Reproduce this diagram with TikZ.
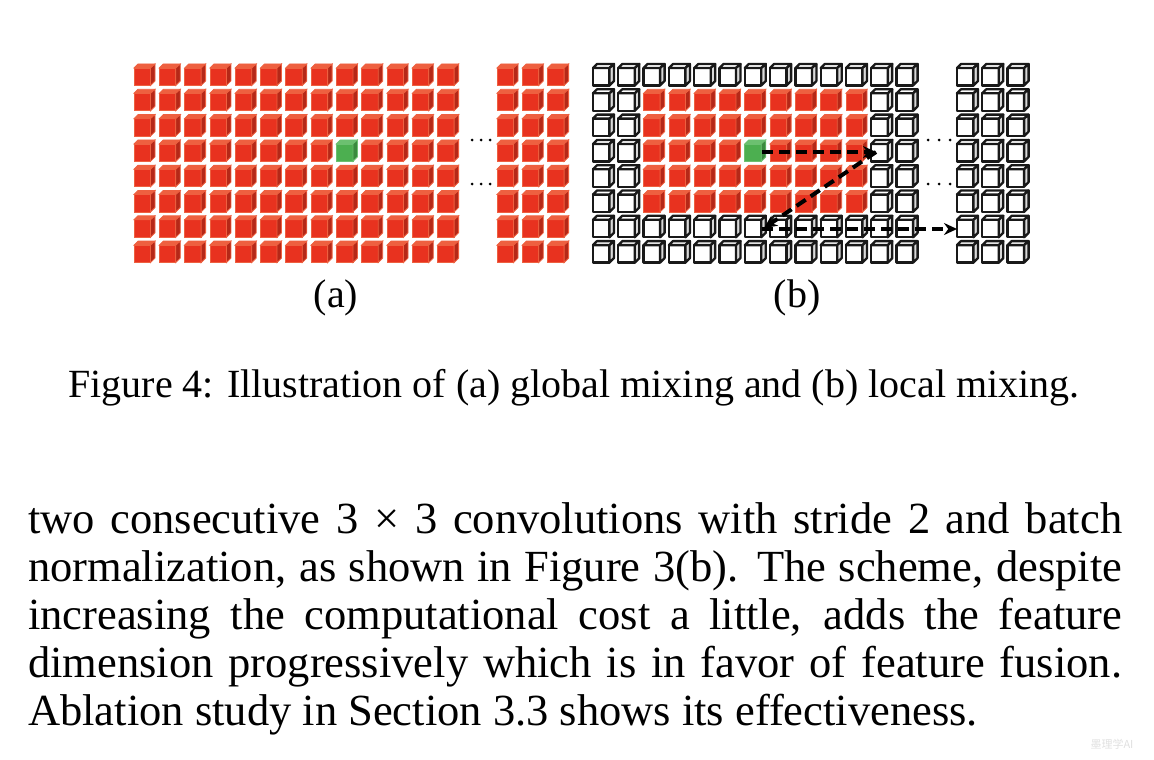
\documentclass[tikz,border=0pt]{standalone}
\usepackage{fontspec}
\setmainfont{Liberation Serif}
\newfontfamily\cjk{Noto Sans CJK SC}
\usetikzlibrary{arrows.meta}
\definecolor{rf}{HTML}{E8321F}
\definecolor{rt}{HTML}{EE6040}
\definecolor{rs}{HTML}{B52818}
\definecolor{gf}{HTML}{4CAF50}
\definecolor{gt}{HTML}{6CC070}
\definecolor{gs}{HTML}{3A8A3E}
\tikzset{
  redc/.style={draw=rt, line width=0.8pt},
  whitec/.style={draw=black!90, line width=2.3pt, line join=round},
  arr/.style={line width=4pt, dash pattern=on 11pt off 6pt, -{Stealth[length=13pt,width=12pt]}},
  dot/.style={circle, fill=black, inner sep=0pt, minimum size=3pt},
  txt/.style={inner sep=0pt, font=\fontsize{40}{46}\selectfont}
}
\newcommand\cubeat[6]{% x y front top side style
  \begin{scope}[shift={(#1,#2)}]
    \path[#6, fill=#3] (0,4) rectangle (16.5,21.5);
    \path[#6, fill=#4] (0,4) -- (4,0) -- (21,0) -- (16.5,4) -- cycle;
    \path[#6, fill=#5] (16.5,4) -- (21,0) -- (21,17) -- (16.5,21.5) -- cycle;
  \end{scope}}
\newcommand\mycube[3]{%
  \ifnum#3=0 \cubeat{#1}{#2}{rf}{rt}{rs}{redc}\fi
  \ifnum#3=1 \cubeat{#1}{#2}{white}{white}{black!15}{whitec}\fi
  \ifnum#3=2 \cubeat{#1}{#2}{gf}{gt}{gs}{draw=gt,line width=0.8pt}\fi}
\begin{document}
\begin{tikzpicture}[x=1pt,y=-1pt]
\useasboundingbox (0,0) rectangle (1154,760);
% (a)
\foreach \r in {0,...,7}{
  \foreach \c in {0,...,12}{
    \pgfmathsetmacro\xx{134+25.3*\c}\pgfmathsetmacro\yy{64+25.3*\r}
    \pgfmathtruncatemacro\k{(\r==3 && \c==8) ? 2 : 0}
    \mycube{\xx}{\yy}{\k}
  }
  \foreach \c in {0,1,2}{
    \pgfmathsetmacro\xx{497+25.3*\c}\pgfmathsetmacro\yy{64+25.3*\r}
    \mycube{\xx}{\yy}{0}
  }
}
% (b)
\foreach \r in {0,...,7}{
  \foreach \c in {0,...,12}{
    \pgfmathsetmacro\xx{593+25.3*\c}\pgfmathsetmacro\yy{64+25.3*\r}
    \pgfmathtruncatemacro\k{(\r==3 && \c==6) ? 2 : ((\r>0 && \r<6 && \c>1 && \c<11) ? 0 : 1)}
    \mycube{\xx}{\yy}{\k}
  }
  \foreach \c in {0,1,2}{
    \pgfmathsetmacro\xx{957+25.3*\c}\pgfmathsetmacro\yy{64+25.3*\r}
    \mycube{\xx}{\yy}{1}
  }
}
% dots
\foreach \y in {140,184}{
  \foreach \x in {472,481,490}{\node[dot] at (\x,\y) {};}
  \foreach \x in {928,939,950}{\node[dot] at (\x,\y) {};}
}
% arrows
\coordinate (g) at (762,152);
\coordinate (p) at (876,152);
\coordinate (q) at (764,228);
\coordinate (s) at (762,229);
\coordinate (t) at (957,229);
\draw[arr] (g) -- (p);
\draw[arr] (p) -- (q);
\draw[arr] (s) -- (t);
% labels
\node[txt] (la) at (336,298) {(a)};
\node[txt] (lb) at (797,298) {(b)};
\node[txt] (cap) at (574,388) {Figure 4: Illustration of (a) global mixing and (b) local mixing.};
\node[anchor=north west, inner sep=0pt, text width=1094pt, align=justify,
  font=\fontsize{44.5}{48}\selectfont] (para) at (28,502)
 {two consecutive 3 × 3 convolutions with stride 2 and batch\linebreak normalization, as shown in Figure 3(b). The scheme, despite\linebreak increasing the computational cost a little, adds the feature\linebreak dimension progressively which is in favor of feature fusion.\linebreak Ablation study in Section 3.3 shows its effectiveness.\par};
\node[text=black!12, font=\cjk\fontsize{11}{12}\selectfont] (wm) at (1112,744) {墨理学AI};
\end{tikzpicture}
\end{document}
